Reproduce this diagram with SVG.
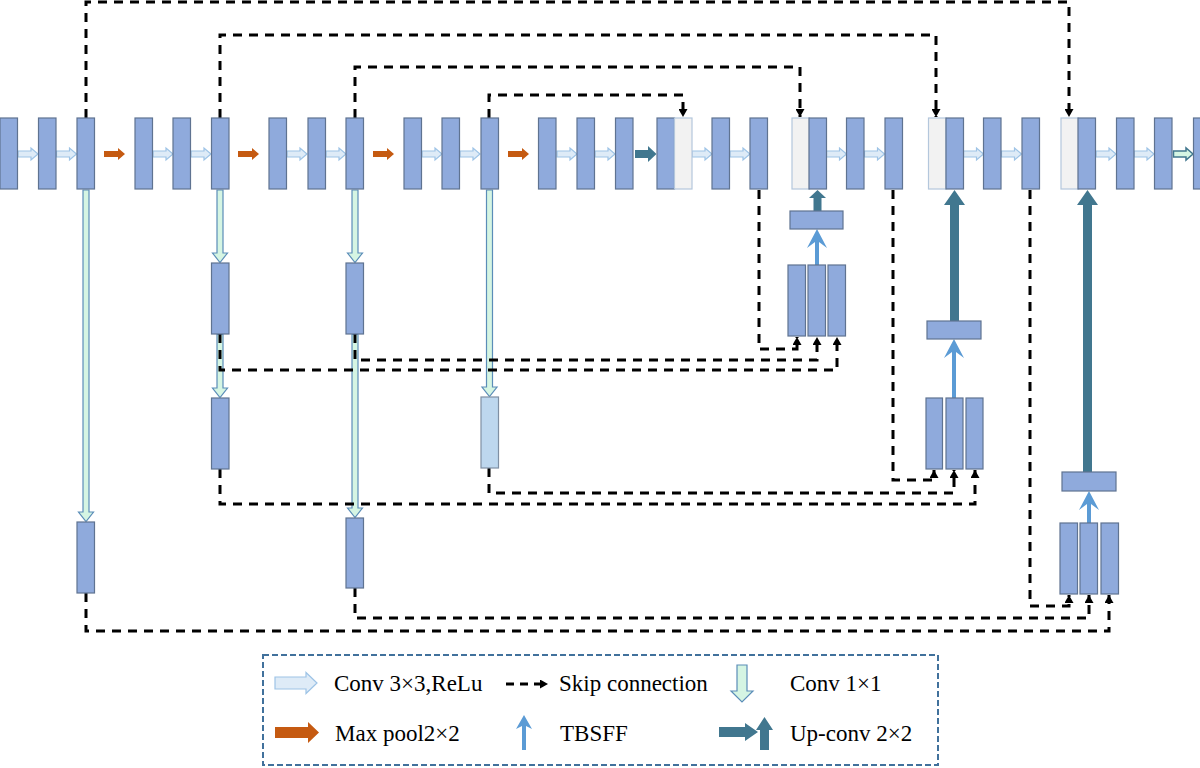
<svg xmlns="http://www.w3.org/2000/svg" xmlns:xlink="http://www.w3.org/1999/xlink" width="1200" height="768" viewBox="0 0 1200 768">
<style>
.b{fill:#8FAADC;stroke:#5F7391;stroke-width:1.2}
.g{fill:#F2F2F2;stroke:#B4C7DC;stroke-width:1.2}
.lb{fill:#BDD7EE;stroke:#7F8FA3;stroke-width:1.2}
.c3{fill:#DEEBF7;stroke:#9DC3E6;stroke-width:1.2}
.mp{fill:#C55A11}
.up{fill:#41778F}
.c1{fill:#D5F5E3;stroke:#5B8DB8;stroke-width:1.2}
.gr{fill:#D5F5E3;stroke:#41778F;stroke-width:1.5}
.tb{fill:#5B9BD5}
.sk{fill:none;stroke:#000;stroke-width:3;stroke-dasharray:9 7}
.t{font-family:"Liberation Serif","Times New Roman",serif;font-size:23px;fill:#000}
</style>
<defs>
<marker id="ah" markerUnits="userSpaceOnUse" markerWidth="9" markerHeight="9" refX="8" refY="4.5" orient="auto">
<path d="M0,0 L8,4.5 L0,9 Z" fill="#000"/>
</marker>
<path id="a3" d="M0,-3 H13 V-6 L20,0 L13,6 V3 H0 Z"/>
<path id="amp" d="M0,-3 H14 V-6 L21,0 L14,6 V3 H0 Z"/>
</defs>

<g id="connectors">
<!-- top skip connections -->
<path class="sk" d="M86 118 V2 H1069 V117" marker-end="url(#ah)"/>
<path class="sk" d="M220 118 V35 H936 V117" marker-end="url(#ah)"/>
<path class="sk" d="M355 118 V67 H800 V117" marker-end="url(#ah)"/>
<path class="sk" d="M489 118 V95 H683 V117" marker-end="url(#ah)"/>

<!-- conv 3x3 arrows -->
<use href="#a3" class="c3" x="18" y="154"/>
<use href="#a3" class="c3" x="56.5" y="154"/>
<use href="#a3" class="c3" x="153" y="154"/>
<use href="#a3" class="c3" x="191" y="154"/>
<use href="#a3" class="c3" x="287" y="154"/>
<use href="#a3" class="c3" x="326" y="154"/>
<use href="#a3" class="c3" x="422" y="154"/>
<use href="#a3" class="c3" x="460" y="154"/>
<use href="#a3" class="c3" x="557" y="154"/>
<use href="#a3" class="c3" x="595" y="154"/>
<use href="#a3" class="c3" x="692" y="154"/>
<use href="#a3" class="c3" x="730" y="154"/>
<use href="#a3" class="c3" x="826.5" y="154"/>
<use href="#a3" class="c3" x="864.5" y="154"/>
<use href="#a3" class="c3" x="963.5" y="154"/>
<use href="#a3" class="c3" x="1001.5" y="154"/>
<use href="#a3" class="c3" x="1096" y="154"/>
<use href="#a3" class="c3" x="1134" y="154"/>

<!-- max pool arrows -->
<use href="#amp" class="mp" x="104" y="154"/>
<use href="#amp" class="mp" x="238" y="154"/>
<use href="#amp" class="mp" x="373" y="154"/>
<use href="#amp" class="mp" x="508" y="154"/>

<!-- up-conv horizontal -->
<path class="up" d="M635 150 H648 V146 L656.5 154 L648 162 V158 H635 Z"/>
<!-- final output arrow -->
<path class="gr" d="M1173.5 151 H1186 V148 L1193 154 L1186 160 V157 H1173.5 Z"/>

<!-- conv 1x1 vertical arrows -->
<path class="c1" d="M83 190 V512 H78.5 L86 521.5 L93.5 512 H89 V190 Z"/>
<path class="c1" d="M217 190 V253 H212.5 L220 262.5 L227.5 253 H223 V190 Z"/>
<path class="c1" d="M217 334.5 V388 H212.5 L220 397.5 L227.5 388 H223 V334.5 Z"/>
<path class="c1" d="M352 190 V253 H347.5 L355 262.5 L362.5 253 H358 V190 Z"/>
<path class="c1" d="M352 334.5 V508 H347.5 L355 517.5 L362.5 508 H358 V334.5 Z"/>
<path class="c1" d="M486.5 190 V387 H482 L489.5 396.5 L497 387 H492.5 V190 Z"/>

<!-- lower skip connections -->
<path class="sk" d="M759 190 V349 H797 V337" marker-end="url(#ah)"/>
<path class="sk" d="M355 334 V360 H817 V337" marker-end="url(#ah)"/>
<path class="sk" d="M220 334 V370 H837 V337" marker-end="url(#ah)"/>
<path class="sk" d="M893 190 V480 H934 V470" marker-end="url(#ah)"/>
<path class="sk" d="M489 468 V493 H954 V470" marker-end="url(#ah)"/>
<path class="sk" d="M220 469 V504 H975 V470" marker-end="url(#ah)"/>
<path class="sk" d="M1030 190 V606 H1069 V595" marker-end="url(#ah)"/>
<path class="sk" d="M355 588 V618 H1089 V595" marker-end="url(#ah)"/>
<path class="sk" d="M86 593 V631 H1109 V595" marker-end="url(#ah)"/>

<!-- TBSFF arrows -->
<path class="tb" d="M815 265 V242 L807 248 L817 229 L827 248 L819 242 V265 Z"/>
<path class="tb" d="M952 398 V352 L944 358 L954 339 L964 358 L956 352 V398 Z"/>
<path class="tb" d="M1087 523 V504 L1079 510 L1089 491 L1099 510 L1091 504 V523 Z"/>

<!-- up-conv vertical arrows -->
<path class="up" d="M813.5 211 V198 H809 L817.5 190 L826 198 H821.5 V211 Z"/>
<path class="up" d="M950 321 V205 H944 L954.5 190 L965 205 H959 V321 Z"/>
<path class="up" d="M1083 472 V205 H1077 L1087.5 190 L1098 205 H1092 V472 Z"/>
</g>

<g id="encoder">
<rect class="b" x="0" y="118" width="17.5" height="71"/>
<rect class="b" x="38.5" y="118" width="17.5" height="71"/>
<rect class="b" x="77" y="118" width="17.5" height="71"/>
<rect class="b" x="135" y="118" width="17.5" height="71"/>
<rect class="b" x="173" y="118" width="17.5" height="71"/>
<rect class="b" x="211.5" y="118" width="17.5" height="71"/>
<rect class="b" x="269" y="118" width="17.5" height="71"/>
<rect class="b" x="308" y="118" width="17.5" height="71"/>
<rect class="b" x="346" y="118" width="17.5" height="71"/>
<rect class="b" x="404" y="118" width="17.5" height="71"/>
<rect class="b" x="442" y="118" width="17.5" height="71"/>
<rect class="b" x="481" y="118" width="17.5" height="71"/>
<rect class="b" x="538.5" y="118" width="17.5" height="71"/>
<rect class="b" x="577" y="118" width="17.5" height="71"/>
<rect class="b" x="615.5" y="118" width="17.5" height="71"/>
</g>

<g id="decoder">
<rect class="b" x="657" y="118" width="17.5" height="71"/>
<rect class="g" x="674.5" y="118" width="17.5" height="71"/>
<rect class="b" x="712" y="118" width="17.5" height="71"/>
<rect class="b" x="750" y="118" width="17.5" height="71"/>
<rect class="g" x="792" y="118" width="17.5" height="71"/>
<rect class="b" x="809" y="118" width="17.5" height="71"/>
<rect class="b" x="846.5" y="118" width="17.5" height="71"/>
<rect class="b" x="885" y="118" width="17.5" height="71"/>
<rect class="g" x="928.5" y="118" width="17.5" height="71"/>
<rect class="b" x="946" y="118" width="17.5" height="71"/>
<rect class="b" x="983.5" y="118" width="17.5" height="71"/>
<rect class="b" x="1022" y="118" width="17.5" height="71"/>
<rect class="g" x="1061" y="118" width="17.5" height="71"/>
<rect class="b" x="1078" y="118" width="17.5" height="71"/>
<rect class="b" x="1116.5" y="118" width="17.5" height="71"/>
<rect class="b" x="1154.5" y="118" width="17.5" height="71"/>
<rect class="b" x="1193.5" y="118" width="17.5" height="71"/>
</g>

<g id="conv1x1-blocks">
<rect class="b" x="211.5" y="263" width="17.5" height="71"/>
<rect class="b" x="211.5" y="398" width="17.5" height="71"/>
<rect class="b" x="346" y="263" width="17.5" height="71"/>
<rect class="b" x="346" y="518" width="17.5" height="70"/>
<rect class="lb" x="481" y="397" width="17.5" height="71"/>
<rect class="b" x="77" y="522" width="17.5" height="71"/>
</g>

<g id="tbsff1">
<rect class="b" x="790" y="211" width="53" height="18"/>
<rect class="b" x="788" y="265" width="17.5" height="71"/>
<rect class="b" x="808" y="265" width="17.5" height="71"/>
<rect class="b" x="828" y="265" width="17.5" height="71"/>
</g>
<g id="tbsff2">
<rect class="b" x="927" y="321" width="54" height="18"/>
<rect class="b" x="926" y="398" width="16.5" height="71"/>
<rect class="b" x="946" y="398" width="17" height="71"/>
<rect class="b" x="966" y="398" width="17" height="71"/>
</g>
<g id="tbsff3">
<rect class="b" x="1062" y="472" width="54" height="19"/>
<rect class="b" x="1060" y="523" width="17.5" height="71"/>
<rect class="b" x="1080" y="523" width="17.5" height="71"/>
<rect class="b" x="1101" y="523" width="17.5" height="71"/>
</g>

<g id="legend">
<rect x="263" y="655" width="675" height="110" fill="none" stroke="#41719C" stroke-width="2" stroke-dasharray="6 3"/>
<path class="c3" d="M275 677 H306 V672.5 L317 683 L306 693.5 V689 H275 Z"/>
<text class="t" x="334" y="691">Conv 3×3,ReLu</text>
<path d="M506 684 H548" fill="none" stroke="#000" stroke-width="3" stroke-dasharray="8 6" marker-end="url(#ah)"/>
<text class="t" x="559" y="691">Skip connection</text>
<path class="c1" d="M737 665 V691 H731 L742 702 L753 691 H747 V665 Z"/>
<text class="t" x="790" y="691">Conv 1×1</text>

<path class="mp" d="M275 727 H308 V722 L319 732.5 L308 743 V738 H275 Z"/>
<text class="t" x="335" y="741">Max pool2×2</text>
<path class="tb" d="M522 750 V726 L516 729 L524 715 L532 729 L526 726 V750 Z"/>
<text class="t" x="560" y="741">TBSFF</text>
<path class="up" d="M719 727 H745 V723 L758 732 L745 741 V737 H719 Z"/>
<path class="up" d="M760 750 V730 H756 L764.5 717 L773 730 H769 V750 Z"/>
<text class="t" x="790" y="741">Up-conv 2×2</text>
</g>
</svg>
